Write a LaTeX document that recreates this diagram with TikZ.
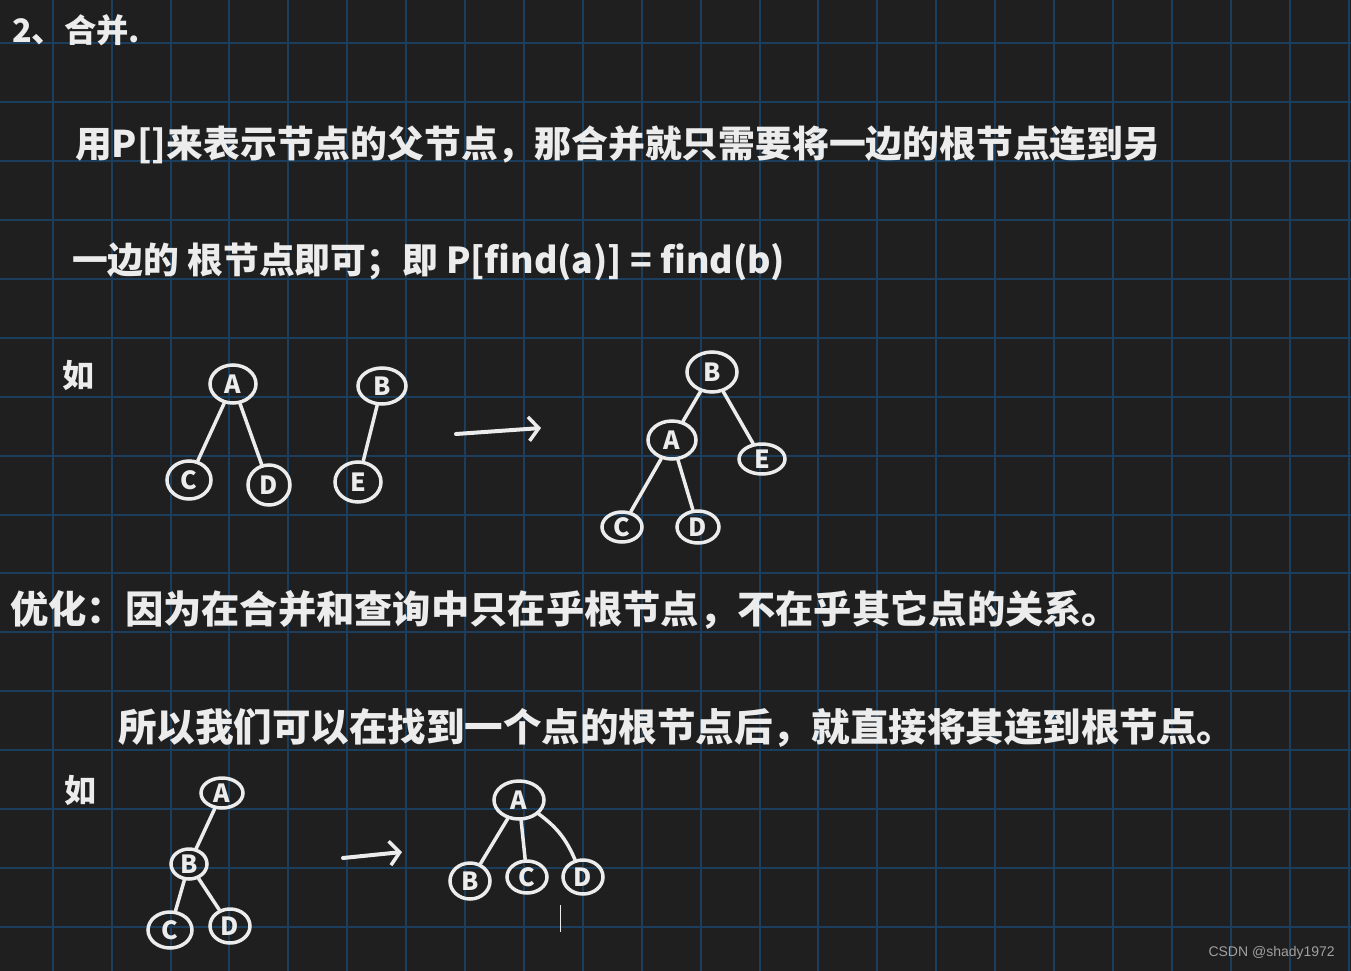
\documentclass[tikz,border=0pt]{standalone}
\usepackage{fontspec}
\usepackage{graphicx}
\usetikzlibrary{shapes.geometric,arrows.meta}
\newfontfamily\cjk{Noto Sans CJK SC}
\newfontfamily\wmfont{Liberation Sans}
\definecolor{bg}{HTML}{1F1F1F}
\definecolor{gridc}{HTML}{1B3E5C}
\definecolor{ink}{HTML}{ECECEC}
\definecolor{wm}{HTML}{A0A0A0}
\tikzset{
  gridline/.style={draw=gridc, line width=2pt},
  txt/.style={anchor=west, inner sep=0pt, text=ink, font=\cjk\bfseries\fontsize{36}{40}\selectfont},
  tnode/.style={ellipse, draw=ink, line width=3.5pt, inner sep=0pt, text=ink, font=\cjk\bfseries\fontsize{25}{27}\selectfont},
  edge/.style={draw=ink, line width=3.5pt, line cap=round},
  harrow/.style={draw=ink, line width=4pt, line cap=round, -{Straight Barb[length=10pt,width=24pt,line width=3.5pt]}}
}
\begin{document}
\begin{tikzpicture}[x=1pt,y=-1pt]
\fill[bg] (0,0) rectangle (1351,971);
\useasboundingbox (0,0) rectangle (1351,971);
\foreach \i in {0,...,22} \draw[gridline] ({52.7+58.9*\i},0) -- ({52.7+58.9*\i},971);
\foreach \j in {0,...,15} \draw[gridline] (0,{43.3+58.9*\j}) -- (1351,{43.3+58.9*\j});

% texts
\node[txt] (t0) at (12,30) {\resizebox{128pt}{!}{2、合并.}};
\node[txt] (t1) at (75,145) {\resizebox{1085pt}{!}{用P[]来表示节点的父节点，那合并就只需要将一边的根节点连到另}};
\node[txt] (t2) at (72,262) {\resizebox{713pt}{!}{一边的 根节点即可；即 P[find(a)] = find(b)}};
\node[txt] (r1) at (62,375) {\resizebox{32pt}{!}{如}};
\node[txt] (t3) at (10,610) {\resizebox{1110pt}{!}{优化：因为在合并和查询中只在乎根节点，不在乎其它点的关系。}};
\node[txt] (t4) at (118,728) {\resizebox{1117pt}{!}{所以我们可以在找到一个点的根节点后，就直接将其连到根节点。}};
\node[txt] (r2) at (64,790) {\resizebox{32pt}{!}{如}};

% tree 1
\node[tnode, minimum width=46pt, minimum height=38pt] (a1) at (233,384) {A};
\node[tnode, minimum width=44pt, minimum height=38pt] (c1) at (189,480) {C};
\node[tnode, minimum width=42pt, minimum height=40pt] (d1) at (269,485) {D};
\node[tnode, minimum width=48pt, minimum height=36pt] (b1) at (382,386) {B};
\node[tnode, minimum width=46pt, minimum height=40pt] (e1) at (358,482) {E};
\draw[edge] (a1) -- (c1);
\draw[edge] (a1) -- (d1);
\draw[edge] (b1) -- (e1);
\coordinate (ar1s) at (456,434);
\coordinate (ar1e) at (541,428);
\draw[harrow] (ar1s) -- (ar1e);

% tree 2
\node[tnode, minimum width=50pt, minimum height=40pt] (b2) at (712,372) {B};
\node[tnode, minimum width=48pt, minimum height=38pt] (a2) at (672,440) {A};
\node[tnode, minimum width=46pt, minimum height=30pt] (e2) at (762,459) {E};
\node[tnode, minimum width=40pt, minimum height=30pt] (c2) at (622,527) {C};
\node[tnode, minimum width=42pt, minimum height=32pt] (d2) at (698,527) {D};
\draw[edge] (b2) -- (a2);
\draw[edge] (b2) -- (e2);
\draw[edge] (a2) -- (c2);
\draw[edge] (a2) -- (d2);

% tree 3
\node[tnode, minimum width=42pt, minimum height=30pt] (a3) at (222,793) {A};
\node[tnode, minimum width=36pt, minimum height=30pt] (b3) at (189,864) {B};
\node[tnode, minimum width=44pt, minimum height=36pt] (c3) at (170,930) {C};
\node[tnode, minimum width=40pt, minimum height=34pt] (d3) at (230,926) {D};
\draw[edge] (a3) -- (b3);
\draw[edge] (b3) -- (c3);
\draw[edge] (b3) -- (d3);
\coordinate (ar2s) at (343,858);
\coordinate (ar2e) at (402,852);
\draw[harrow] (ar2s) -- (ar2e);

% tree 4
\node[tnode, minimum width=50pt, minimum height=38pt] (a4) at (519,800) {A};
\node[tnode, minimum width=40pt, minimum height=36pt] (b4) at (470,881) {B};
\node[tnode, minimum width=40pt, minimum height=32pt] (c4) at (527,877) {C};
\node[tnode, minimum width=40pt, minimum height=34pt] (d4) at (583,877) {D};
\draw[edge] (a4) -- (b4);
\draw[edge] (a4) -- (c4);
\draw[edge] (a4) to[bend left=15] (d4);

% cursor
\coordinate (cur1) at (560,905);
\coordinate (cur2) at (560,932);
\draw[ink, line width=1pt] (cur1) -- (cur2);

% watermark
\node[anchor=east, inner sep=0pt, text=wm, font=\wmfont\fontsize{14}{16}\selectfont] (wmk) at (1335,953) {CSDN @shady1972};
\end{tikzpicture}
\end{document}
